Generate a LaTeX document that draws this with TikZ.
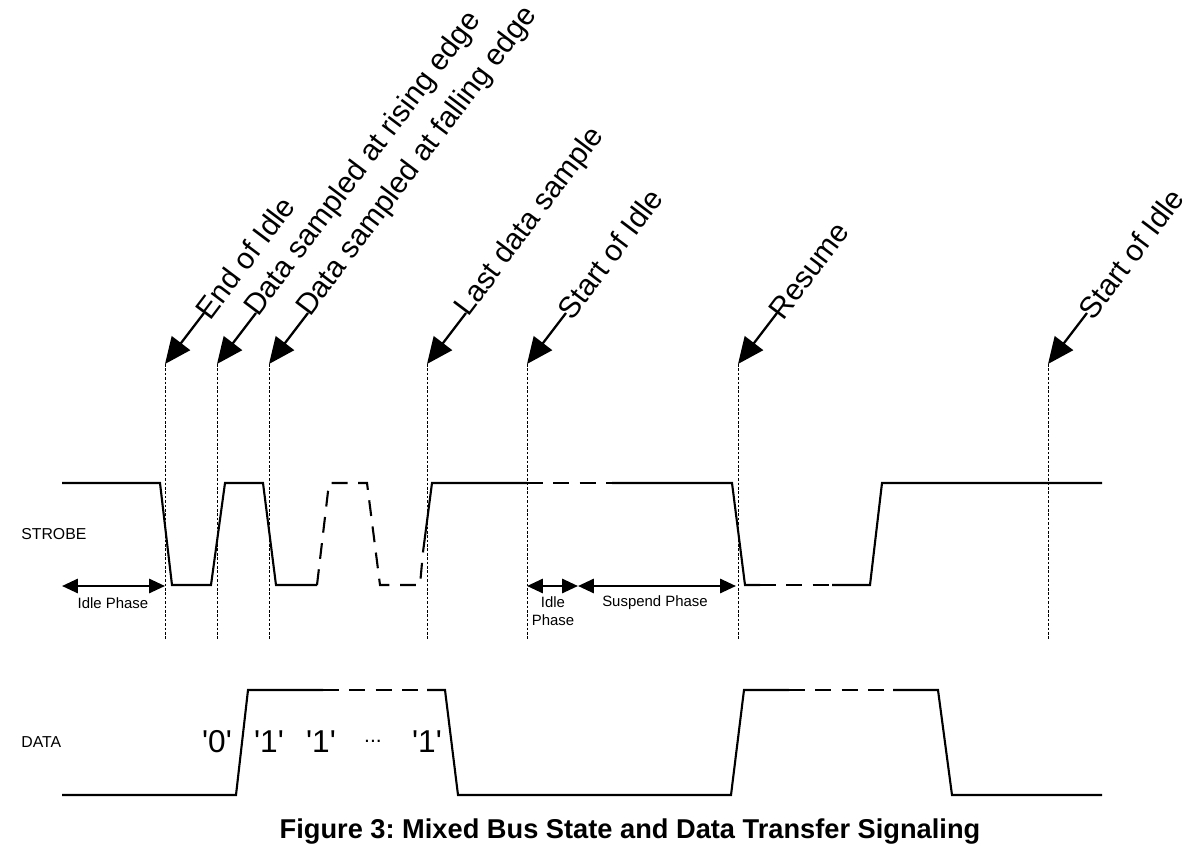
\documentclass[tikz,border=0pt]{standalone}
\usepackage{fontspec}
\setmainfont{Liberation Sans}
\usetikzlibrary{arrows.meta}
\frenchspacing
\begin{document}
\begin{tikzpicture}[x=0.02cm,y=-0.02cm,
  wave/.style={line width=1.2pt,line join=miter},
  dwave/.style={wave,dash pattern=on 9pt off 6pt},
  guide/.style={line width=0.4pt,dash pattern=on 1.5pt off 1pt},
  marker/.style={line width=1.3pt,-{Triangle[width=13pt,length=15pt]}},
  phase/.style={line width=1.4pt,{Triangle[width=8pt,length=9pt]}-{Triangle[width=8pt,length=9pt]}},
  lab/.style={font=\fontsize{17}{19}\selectfont,rotate=53,anchor=south west,inner sep=0pt},
  small/.style={font=\fontsize{8.5}{10}\selectfont,align=center,inner sep=0pt},
  sig/.style={font=\fontsize{9}{10}\selectfont,anchor=west,inner sep=0pt},
  bit/.style={font=\fontsize{18}{19}\selectfont,inner sep=0pt}]
\useasboundingbox (0,0) rectangle (1200,852);
% markers
\foreach \n/\x/\t in {a/165/End of Idle,b/217/Data sampled at rising edge,c/269/Data sampled at falling edge,d/427/Last data sample,e/527/Start of Idle,f/738/Resume,g/1048/Start of Idle}{
  \coordinate (top\n) at (\x,364);
  \coordinate (bot\n) at (\x,640);
  \coordinate (tail\n) at (\x+39,313);
  \draw[guide] (top\n) -- (bot\n);
  \draw[marker] (tail\n) -- (top\n);
  \node[lab] (t\n) at ([xshift=4pt,yshift=-5pt]tail\n) {\t};
}
% STROBE
\node[sig] (strobe) at (21,534) {STROBE};
\draw[wave] (62,483) -- (160,483) -- (172,585) -- (211,585) -- (225,483) -- (263,483) -- (276,585) -- (317,585);
\draw[dwave] (317,585) -- (329,483) -- (367,483) -- (380,585) -- (420,585) -- (423,552);
\draw[wave] (423,552) -- (432,483) -- (527,483);
\draw[dwave] (527,483) -- (612,483);
\draw[wave] (612,483) -- (732,483) -- (745,585) -- (760,585);
\draw[dwave] (760,585) -- (832,585);
\draw[wave] (832,585) -- (870,585) -- (882,483) -- (1102,483);
% phases
\coordinate (p0) at (62,586);
\coordinate (p1) at (165,586);
\coordinate (p2) at (527,586);
\coordinate (p3) at (578,586);
\coordinate (p4) at (736,586);
\draw[phase] (p0) -- (p1);
\draw[phase] (p2) -- (p3);
\draw[phase] (p3) -- (p4);
\node[small] (ip1) at (113,603) {Idle Phase};
\node[small] (ip2) at (553,611) {Idle\\Phase};
\node[small] (sp) at (655,603) {Suspend Phase};
% DATA
\node[sig] (data) at (21,742) {DATA};
\draw[wave] (62,795) -- (236,795) -- (248,690) -- (323,690);
\draw[dwave] (323,690) -- (427,690);
\draw[wave] (427,690) -- (445,690) -- (458,795) -- (731,795) -- (744,690) -- (789,690);
\draw[dwave] (789,690) -- (893,690);
\draw[wave] (893,690) -- (938,690) -- (952,795) -- (1102,795);
\node[bit] (b0) at (217,742) {\textquotesingle0\textquotesingle};
\node[bit] (b1) at (269,742) {\textquotesingle1\textquotesingle};
\node[bit] (b2) at (321,742) {\textquotesingle1\textquotesingle};
\node[bit] (b3) at (373,741) {\fontsize{12}{12}\selectfont ...};
\node[bit] (b4) at (427,742) {\textquotesingle1\textquotesingle};
% title
\node[font=\bfseries\fontsize{15.5}{17}\selectfont] (title) at (630,832) {Figure 3: Mixed Bus State and Data Transfer Signaling};
\end{tikzpicture}
\end{document}
